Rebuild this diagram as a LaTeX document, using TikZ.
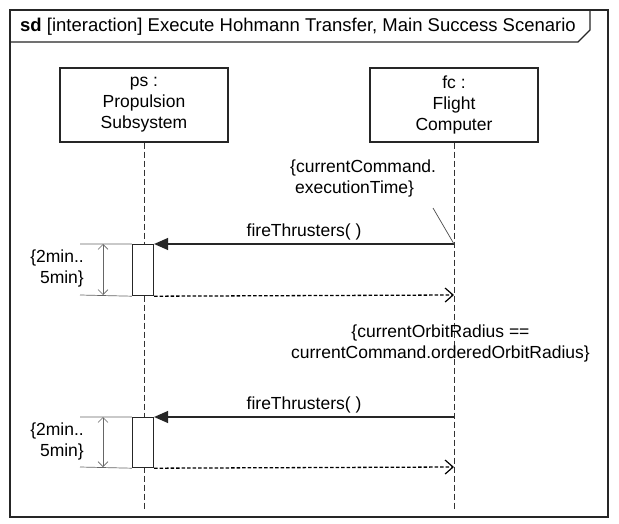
\documentclass[tikz,border=0pt]{standalone}
\usepackage{fontspec}
\setmainfont{Liberation Sans}
\usetikzlibrary{arrows.meta}
\begin{document}
\begin{tikzpicture}[x=1pt,y=-1pt,
  ln/.style={draw=black!85,line width=1.2pt},
  box/.style={ln,fill=white,minimum width=168pt,minimum height=74pt,align=center,font=\fontsize{17.5}{21}\selectfont},
  life/.style={draw=black!80,line width=1pt,dash pattern=on 6pt off 3pt},
  act/.style={ln,fill=white,minimum width=21pt,inner sep=0pt},
  msg/.style={ln,-{Triangle[length=14pt,width=12pt]}},
  ret/.style={draw=black,line width=1.3pt,dash pattern=on 3.5pt off 2pt,-{Straight Barb[length=8pt,width=14pt,line width=1.2pt]}},
  lbl/.style={font=\fontsize{17.5}{21}\selectfont,align=center},
  dim/.style={draw=black!60,line width=0.7pt,{Straight Barb[length=5pt,width=10pt]}-{Straight Barb[length=5pt,width=10pt]}}]
\useasboundingbox (0,0) rectangle (619,524);
\fill[white] (0,0) rectangle (619,524);
\draw[ln] (10,10) rectangle (608,517);
\draw[ln] (10,42) -- (578,42) -- (590,30) -- (590,10);
\node[anchor=west,inner sep=0pt,font=\fontsize{18.5}{21}\selectfont] (title) at (20,27) {\textbf{sd} [interaction] Execute Hohmann Transfer, Main Success Scenario};
\node[box] (ps) at (144,105) {ps :\\Propulsion\\Subsystem};
\node[box] (fc) at (454,105) {fc :\\Flight\\Computer};
\coordinate (psend) at (144,510);
\coordinate (fcend) at (454,510);
\draw[life] (ps.south) -- (psend);
\draw[life] (fc.south) -- (fcend);
\node[act,minimum height=51pt,anchor=north] (a1) at (143,244) {};
\node[act,minimum height=50pt,anchor=north] (a2) at (143,417) {};
\coordinate (f1) at (454,244); \coordinate (f1r) at (454,295);
\coordinate (f2) at (454,417); \coordinate (f2r) at (454,467);
\draw[msg] (f1) -- node[lbl,above=0pt] {fireThrusters( )} (a1.north east);
\draw[ret] (a1.south east) -- (f1r);
\draw[msg] (f2) -- node[lbl,above=0pt] {fireThrusters( )} (a2.north east);
\draw[ret] (a2.south east) -- (f2r);
\coordinate (d1a) at (80,244); \coordinate (d1b) at (80,295);
\coordinate (d2a) at (80,417); \coordinate (d2b) at (80,467);
\draw[draw=black!60,line width=0.7pt] (d1a) -- (a1.north west) (d1b) -- (a1.south west) (d2a) -- (a2.north west) (d2b) -- (a2.south west);
\coordinate (v1a) at (103,244); \coordinate (v1b) at (103,295);
\coordinate (v2a) at (103,417); \coordinate (v2b) at (103,467);
\draw[dim] (v1a) -- (v1b);
\draw[dim] (v2a) -- (v2b);
\node[lbl,align=right,anchor=east,inner sep=0pt] (c1) at (84,268) {\{2min..\\5min\}};
\node[lbl,align=right,anchor=east,inner sep=0pt] (c2) at (84,441) {\{2min..\\5min\}};
\node[lbl,align=left,anchor=north west,inner sep=0pt] (ec) at (290,160) {\{currentCommand.\\ \ executionTime\}};
\coordinate (ecl) at (433,208);
\draw[draw=black!70,line width=0.7pt] (ecl) -- (f1);
\node[lbl,align=center,anchor=north east,inner sep=0pt] (orb) at (590,325) {\{currentOrbitRadius ==\\currentCommand.orderedOrbitRadius\}};
\end{tikzpicture}
\end{document}
